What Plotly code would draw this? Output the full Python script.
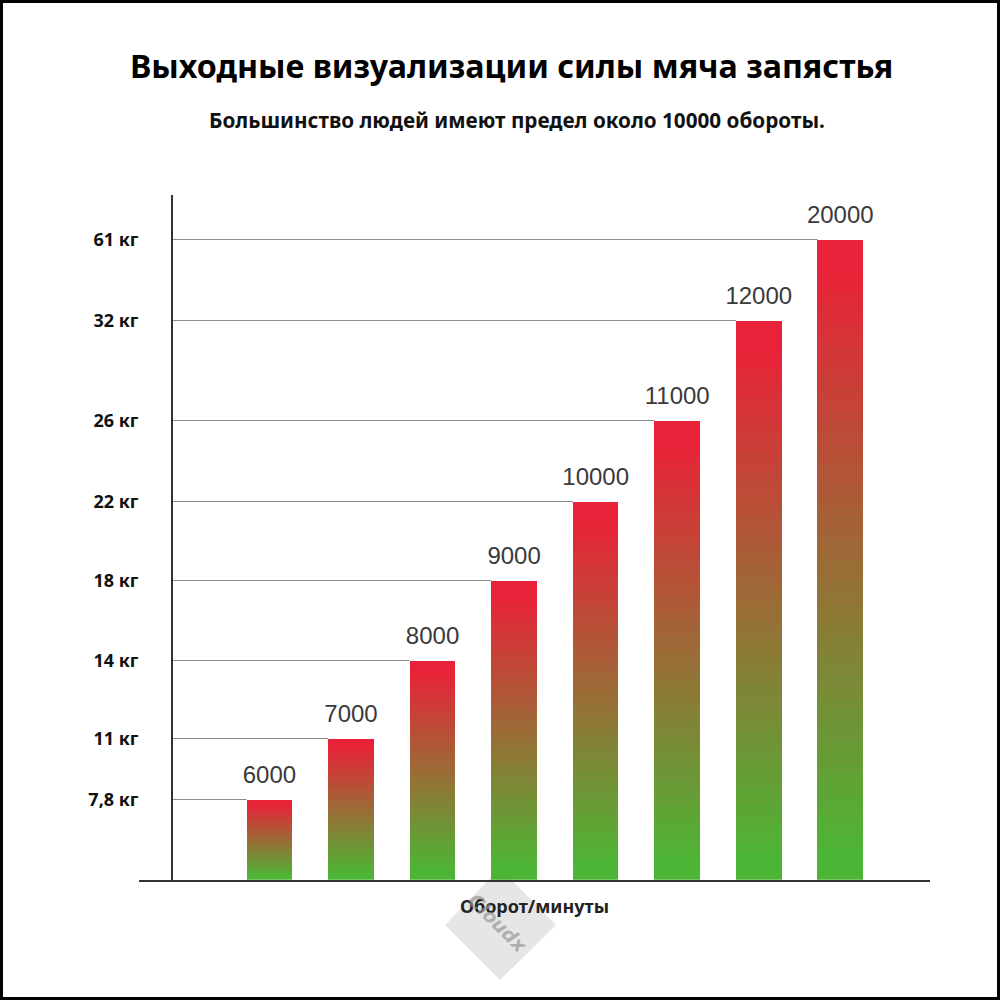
import plotly.graph_objects as go

# Categories and values
rpm_labels = ["6000", "7000", "8000", "9000", "10000", "11000", "12000", "20000"]
kg_labels = ["7,8 кг", "11 кг", "14 кг", "18 кг", "22 кг", "26 кг", "32 кг", "61 кг"]
# The vertical scale is not linear in kg: height of each level on the drawn scale
scale_levels = [80, 141, 219, 299, 378, 459, 559, 640]
scale_top = 685

RED = (232, 34, 56)
GREEN = (77, 181, 53)
N_STEPS = 60
GREEN_AT = 0.04  # fraction of bar height that is solid green
RED_AT = 0.95    # fraction of bar height where solid red begins
BAR_WIDTH = 0.56


def mix(t):
    t = max(0.0, min(1.0, (t - GREEN_AT) / (RED_AT - GREEN_AT)))
    return "rgb(%d,%d,%d)" % tuple(round(g + (r - g) * t) for r, g in zip(RED, GREEN))


xs = list(range(len(rpm_labels)))

# gradient bars: each column is drawn bottom-up in overlapping steps
grad_x, grad_base, grad_h, grad_c = [], [], [], []
for x, h in zip(xs, scale_levels):
    for i in range(N_STEPS):
        f = i / N_STEPS
        grad_x.append(x)
        grad_base.append(h * f)
        grad_h.append(h * (1 - f))
        grad_c.append(mix(f + 0.5 / N_STEPS))

# levels run from the axis to the left edge of their bar
line_x, line_y = [], []
for x, h in zip(xs, scale_levels):
    line_x += [-1.2, x - BAR_WIDTH / 2, None]
    line_y += [h, h, None]

fig = go.Figure()
fig.add_trace(go.Scatter(x=line_x, y=line_y, mode="lines", line=dict(color="#8c8c8c", width=1),
                         hoverinfo="skip", showlegend=False))
fig.add_trace(go.Bar(x=xs, y=scale_levels, width=BAR_WIDTH,
                     marker=dict(color="rgb(77,181,53)", line=dict(width=0)), showlegend=False))
fig.add_trace(go.Bar(x=grad_x, y=grad_h, base=grad_base, width=BAR_WIDTH,
                     marker=dict(color=grad_c, line=dict(width=0)), hoverinfo="skip", showlegend=False))
# value labels; the invisible marker sets their distance above the bar
fig.add_trace(go.Scatter(x=xs, y=scale_levels, mode="markers+text", text=rpm_labels, textposition="top center",
                         marker=dict(size=16, color="rgba(0,0,0,0)"), cliponaxis=False, hoverinfo="skip",
                         textfont=dict(family="Liberation Sans", size=24, color="#3a3a3a"), showlegend=False))

PX = lambda v: v / 1000
shapes = [
    # outer frame
    dict(type="rect", xref="paper", yref="paper", x0=0, x1=1, y0=0, y1=1, line=dict(color="#000", width=6), layer="above"),
    # watermark diamond
    dict(type="path", xref="paper", yref="paper", path="M 0.445 0.075 L 0.5 0.132 L 0.556 0.075 L 0.5 0.02 Z",
         fillcolor="rgba(205,205,205,0.5)", line=dict(width=0), layer="below"),
]

fig.update_layout(
    width=1000, height=1000, barmode="overlay", bargap=0,
    paper_bgcolor="white", plot_bgcolor="rgba(0,0,0,0)",
    margin=dict(l=0, r=0, t=0, b=0, autoexpand=False),
    showlegend=False, shapes=shapes,
    font=dict(family="Noto Sans", color="#111"),
    xaxis=dict(domain=[PX(139), PX(930)], range=[-1.60, 8.10], showgrid=False, zeroline=False,
               tickvals=[], showline=True, linecolor="#333", linewidth=2, anchor="y",
               title=dict(text="<b>Оборот/минуты</b>", standoff=17,
                          font=dict(family="Noto Sans", size=18, color="#222"))),
    yaxis=dict(domain=[PX(120.5), PX(805.5)], range=[0, scale_top], anchor="free", position=PX(172),
               tickmode="array", tickvals=scale_levels, ticktext=["<b>%s</b>" % k for k in kg_labels],
               ticks="", ticklabelstandoff=29, showgrid=False, zeroline=False,
               showline=True, linecolor="#333", linewidth=2,
               tickfont=dict(family="Noto Sans", size=18, color="#111")),
    annotations=[
        dict(text="<b>Выходные визуализации силы мяча запястья</b>", xref="paper", yref="paper",
             x=0.511, y=0.934, yanchor="middle", showarrow=False, font=dict(family="Noto Sans", size=32.2, color="#000")),
        dict(text="<b>Большинство людей имеют предел около 10000 обороты.</b>", xref="paper", yref="paper",
             x=0.517, y=0.880, yanchor="middle", showarrow=False, font=dict(family="Noto Sans", size=20.7, color="#111")),
        dict(text="<b><i>Cloudx</i></b>", xref="paper", yref="paper", x=0.498, y=0.077, yanchor="middle",
             showarrow=False, textangle=45,
             font=dict(family="DejaVu Sans", size=19, color="rgba(150,150,150,0.7)")),
    ],
)

fig.write_html("out.html", config={"displayModeBar": False}, post_script="document.body.style.margin='0';")
